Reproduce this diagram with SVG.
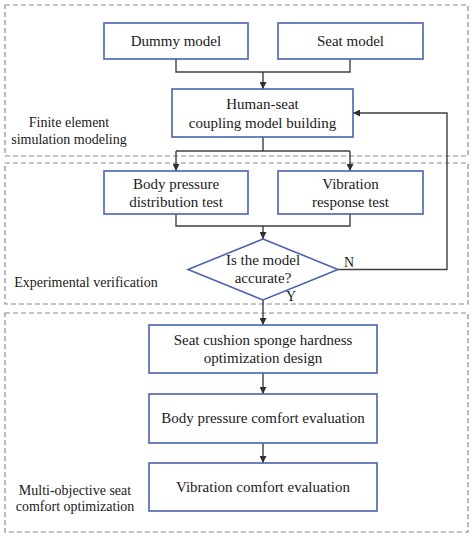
<svg xmlns="http://www.w3.org/2000/svg" width="474" height="540" viewBox="0 0 474 540">
<defs>
<marker id="ah" viewBox="0 0 10 10" refX="10" refY="5" markerWidth="7" markerHeight="7" markerUnits="userSpaceOnUse" orient="auto">
<path d="M0,0 L10,5 L0,10 z" fill="#303030"/>
</marker>
<style>
.grp{fill:none;stroke:#8a8a8a;stroke-width:1.2;stroke-dasharray:5 3}
.box{fill:#fff;stroke:#4a62b0;stroke-width:1.6}
.con{fill:none;stroke:#404040;stroke-width:1.4}
.t{font-family:'Liberation Serif','DejaVu Serif',serif;font-size:15px;fill:#1a1a1a;text-anchor:middle}
.lb{font-family:'Liberation Serif','DejaVu Serif',serif;font-size:14px;fill:#1a1a1a;text-anchor:middle}
</style>
</defs>
<rect width="474" height="540" fill="#fff"/>
<g id="groups">
<rect class="grp" x="5" y="5" width="463" height="151"/>
<rect class="grp" x="5" y="163" width="463" height="141"/>
<rect class="grp" x="5" y="313" width="463" height="219"/>
<text class="lb" x="69" y="127">Finite element</text>
<text class="lb" x="69" y="144">simulation modeling</text>
<text class="lb" x="86" y="287">Experimental verification</text>
<text class="lb" x="75" y="495">Multi-objective seat</text>
<text class="lb" x="75" y="511">comfort optimization</text>
</g>
<g id="connectors">
<path class="con" d="M176,59 V72 H350 V59"/>
<path class="con" d="M263,72 V89" marker-end="url(#ah)"/>
<path class="con" d="M263,137 V151"/>
<path class="con" d="M176,151 H350"/>
<path class="con" d="M176,151 V171" marker-end="url(#ah)"/>
<path class="con" d="M350,151 V171" marker-end="url(#ah)"/>
<path class="con" d="M176,214 V226 H350 V214"/>
<path class="con" d="M263,226 V239" marker-end="url(#ah)"/>
<path class="con" d="M338,269.5 H447 V113 H353" marker-end="url(#ah)"/>
<path class="con" d="M263,300 V325" marker-end="url(#ah)"/>
<path class="con" d="M263,373 V394" marker-end="url(#ah)"/>
<path class="con" d="M263,443 V463" marker-end="url(#ah)"/>
<text class="lb" x="349" y="267">N</text>
<text class="lb" x="291" y="301">Y</text>
</g>
<g id="dummy">
<rect class="box" x="104" y="23" width="144" height="36"/>
<text class="t" x="176" y="46">Dummy model</text>
</g>
<g id="seat">
<rect class="box" x="278" y="23" width="145" height="36"/>
<text class="t" x="350.5" y="46">Seat model</text>
</g>
<g id="coupling">
<rect class="box" x="172" y="89" width="181" height="48"/>
<text class="t" x="262.5" y="109">Human-seat</text>
<text class="t" x="262.5" y="128">coupling model building</text>
</g>
<g id="pressure-test">
<rect class="box" x="104" y="171" width="144" height="43"/>
<text class="t" x="176" y="189">Body pressure</text>
<text class="t" x="176" y="207">distribution test</text>
</g>
<g id="vibration-test">
<rect class="box" x="278" y="171" width="145" height="43"/>
<text class="t" x="350.5" y="189">Vibration</text>
<text class="t" x="350.5" y="207">response test</text>
</g>
<g id="decision">
<path class="box" d="M263,239 L338,269.5 L263,300 L188,269.5 Z"/>
<text class="t" x="263" y="265">Is the model</text>
<text class="t" x="263" y="283">accurate?</text>
</g>
<g id="optimization">
<rect class="box" x="149" y="325" width="228" height="48"/>
<text class="t" x="263" y="345">Seat cushion sponge hardness</text>
<text class="t" x="263" y="363">optimization design</text>
</g>
<g id="pressure-eval">
<rect class="box" x="149" y="394" width="228" height="49"/>
<text class="t" x="263" y="423">Body pressure comfort evaluation</text>
</g>
<g id="vibration-eval">
<rect class="box" x="149" y="463" width="228" height="48"/>
<text class="t" x="263" y="492">Vibration comfort evaluation</text>
</g>
</svg>
